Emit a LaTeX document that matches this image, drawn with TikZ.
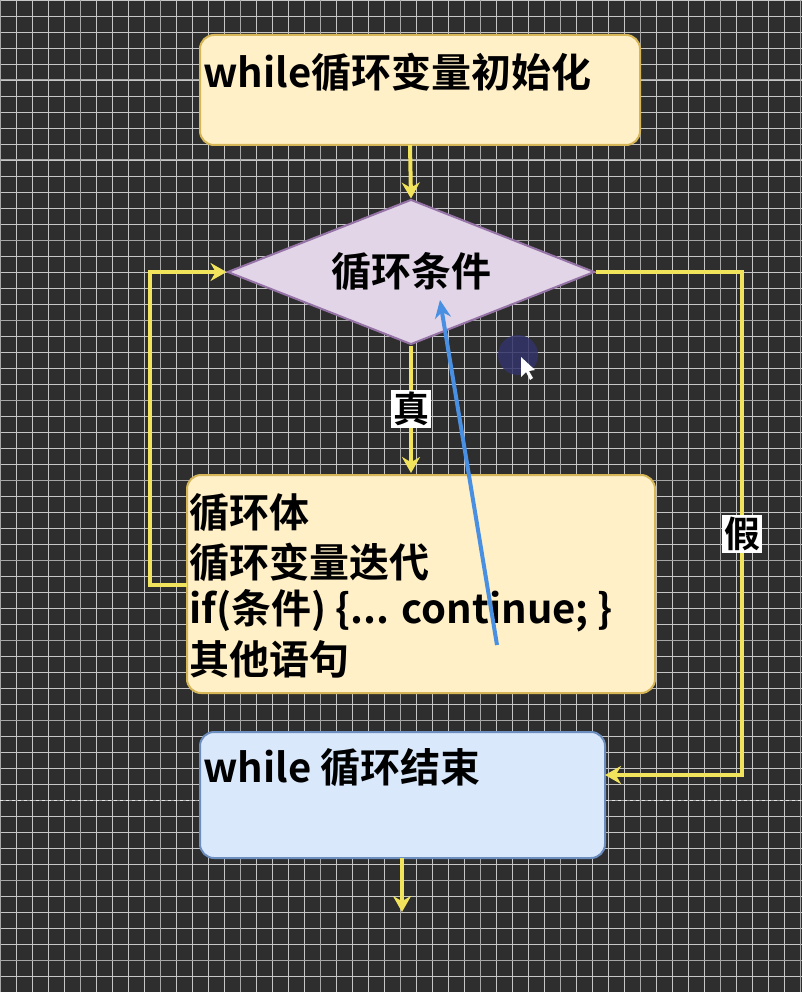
\documentclass[tikz,border=0pt]{standalone}
\usepackage{fontspec}
\setmainfont{Noto Sans CJK SC}[BoldFont={Noto Sans CJK SC Bold}]
\usetikzlibrary{arrows.meta,shapes.geometric}
\definecolor{bg}{HTML}{2E2E2E}
\definecolor{yl}{HTML}{F2E35C}
\definecolor{boxy}{HTML}{FFF0C8}
\definecolor{boxyb}{HTML}{D6B656}
\definecolor{lav}{HTML}{E1D5E7}
\definecolor{lavb}{HTML}{9673A6}
\definecolor{lb}{HTML}{DAE8FC}
\definecolor{lbb}{HTML}{6C8EBF}
\definecolor{ann}{HTML}{4A90E2}
\tikzset{
 conn/.style={yl,line width=4pt,-{Stealth[length=16pt,width=18pt]}},
 ybox/.style={draw=boxyb,fill=boxy,line width=2pt,rounded corners=14pt},
 bbox/.style={draw=lbb,fill=lb,line width=2pt,rounded corners=14pt},
 txt/.style={font=\fontsize{40}{48}\selectfont\bfseries,text=black,anchor=west,inner sep=0pt},
 lbl/.style={font=\fontsize{36}{40}\selectfont\bfseries,fill=white,text=black,inner sep=2pt}
}
\begin{document}
\begin{tikzpicture}[x=1pt,y=-1pt]
\fill[bg] (0,0) rectangle (802,992);
\useasboundingbox (0,0) rectangle (802,992);
\foreach \i in {0,16,...,992} {\draw[gray!45,line width=0.5pt] (\i,0) -- (\i,992); \draw[gray!45,line width=0.5pt] (0,\i) -- (802,\i);}
\foreach \i in {0,80,...,992} {\draw[gray!70,line width=1pt] (\i,0) -- (\i,992); \draw[gray!70,line width=1pt] (0,\i) -- (802,\i);}
\draw[white!80!gray,dashed,line width=1pt] (0,800) -- (802,800);
% boxes
\draw[ybox] (200,35) rectangle (640,145);
\node[txt] (t1) at (203,72) {while循环变量初始化};
\coordinate (b1b) at (410,145);
\node[diamond,draw=lavb,fill=lav,line width=2pt,minimum width=367pt,minimum height=145pt,aspect=2.5,inner sep=0pt] (d) at (411,272) {};
\node[txt,anchor=center] (dt) at (411,272) {循环条件};
\draw[ybox] (187,475) rectangle (655,693);
\node[txt] (l1) at (189,513) {循环体};
\node[txt] (l2) at (189,562) {循环变量迭代};
\node[txt] (l3) at (189,611) {if(条件) \{... continue; \}};
\node[txt] (l4) at (189,659) {其他语句};
\draw[bbox] (200,732) rectangle (605,858);
\node[txt] (t3) at (203,768) {while 循环结束};
\coordinate (b2t) at (411,473);
\coordinate (b2l) at (187,585);
\coordinate (b3r) at (605,775);
\coordinate (b3b) at (402,858);
\coordinate (endp) at (402,912);
% connectors
\draw[conn] (b1b) -- (d.north);
\draw[conn] (d.south) -- node[lbl,pos=0.5] {真} (b2t);
\draw[conn] (b2l) -- (150,585) -- (150,272) -- (d.west);
\draw[conn] (d.east) -- (742,272) -- node[lbl,pos=0.52] {假} (742,775) -- (b3r);
\draw[conn] (b3b) -- (endp);
% annotation
\coordinate (a1) at (497,645);
\coordinate (a2) at (440,300);
\draw[ann,line width=4pt,-{Stealth[length=18pt,width=16pt]}] (a1) -- (a2);
\fill[black!65!blue!60!gray,opacity=0.85] (518,355) circle (20);
\fill[white] (521,357) -- (521,377) -- (526,372) -- (530,380) -- (533,378) -- (529,371) -- (535,370) -- cycle;
\end{tikzpicture}
\end{document}
